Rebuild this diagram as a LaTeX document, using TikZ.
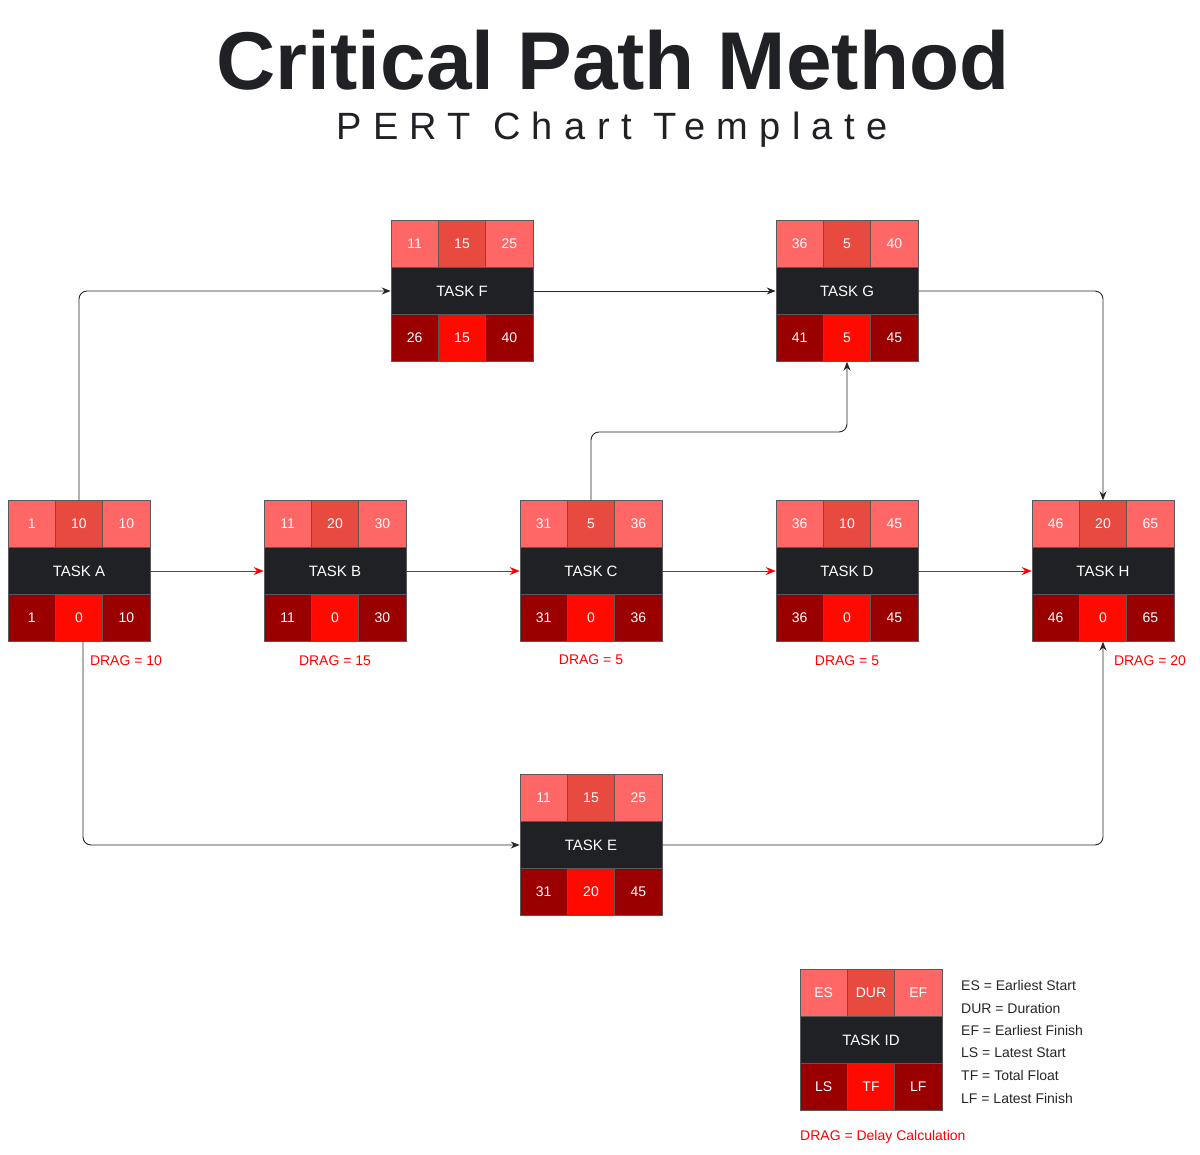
\documentclass[tikz,border=0pt]{standalone}
\usepackage{fontspec}
\setmainfont{Liberation Sans}
\usetikzlibrary{arrows.meta}
\definecolor{lt}{HTML}{FF6666}
\definecolor{md}{HTML}{E84A3F}
\definecolor{hd}{HTML}{202124}
\definecolor{dk}{HTML}{9B0000}
\definecolor{bt}{HTML}{FF0A00}
\definecolor{rl}{HTML}{FF0000}
\tikzset{
 cell/.style={draw=black!65,line width=0.6pt,minimum width=47.33pt,minimum height=47pt,inner sep=0pt,text=white,font=\fontsize{14}{16}\selectfont},
 hdr/.style={draw=black!65,line width=0.6pt,fill=hd,minimum width=142pt,minimum height=47pt,inner sep=0pt,text=white,font=\fontsize{15}{17}\selectfont},
 conn/.style={draw=black!85,line width=0.9pt,rounded corners=8pt,-{Stealth[length=9pt,width=7pt]}},
 crit/.style={draw=rl,line width=0.9pt,-{Stealth[length=10pt,width=8pt]}},
 drag/.style={text=rl,font=\fontsize{14}{16}\selectfont,inner sep=0pt},
 legt/.style={font=\fontsize{14}{16}\selectfont,anchor=west,inner sep=0pt,text=black!85}
}
\newcommand\taskbox[9]{%
 \begin{scope}[shift={(#2)}]
 \node[minimum width=142pt,minimum height=141pt,inner sep=0pt] (#1) at (0,0) {};
 \node[cell,fill=lt] (#1-es) at (-47.33,-47) {#4};
 \node[cell,fill=md] (#1-du) at (0,-47) {#5};
 \node[cell,fill=lt] (#1-ef) at (47.33,-47) {#6};
 \node[hdr] (#1-h) at (0,0) {#3};
 \node[cell,fill=dk] (#1-ls) at (-47.33,47) {#7};
 \node[cell,fill=bt] (#1-tf) at (0,47) {#8};
 \node[cell,fill=dk] (#1-lf) at (47.33,47) {#9};
 \end{scope}}
\begin{document}
\begin{tikzpicture}[x=1pt,y=-1pt]
\useasboundingbox (0,0) rectangle (1200,1155);
\node[font=\fontsize{82}{90}\selectfont\bfseries,text=hd] (title) at (613,60) {Critical Path Method};
\node[font=\fontsize{38}{44}\selectfont\addfontfeature{LetterSpace=30},text=hd] (sub) at (612,130) {PERT Chart Template};

\taskbox{A}{79,571}{TASK A}{1}{10}{10}{1}{0}{10}
\taskbox{B}{335,571}{TASK B}{11}{20}{30}{11}{0}{30}
\taskbox{C}{591,571}{TASK C}{31}{5}{36}{31}{0}{36}
\taskbox{D}{847,571}{TASK D}{36}{10}{45}{36}{0}{45}
\taskbox{H}{1103,571}{TASK H}{46}{20}{65}{46}{0}{65}
\taskbox{F}{462,291}{TASK F}{11}{15}{25}{26}{15}{40}
\taskbox{G}{847,291}{TASK G}{36}{5}{40}{41}{5}{45}
\taskbox{E}{591,845}{TASK E}{11}{15}{25}{31}{20}{45}
\taskbox{L}{871,1040}{TASK ID}{ES}{DUR}{EF}{LS}{TF}{LF}

\draw[crit] (A-h.east) -- (B-h.west);
\draw[crit] (B-h.east) -- (C-h.west);
\draw[crit] (C-h.east) -- (D-h.west);
\draw[crit] (D-h.east) -- (H-h.west);
\draw[conn] (A.north) |- (F-h.west);
\draw[conn] (F-h.east) -- (G-h.west);
\draw[conn] (G-h.east) -| (H.north);
\draw[conn] (C.north) |- (719,432) -| (G.south);
\draw[conn] ([xshift=4pt]A.south) |- (E-h.west);
\draw[conn] (E-h.east) -| (H.south);

\node[drag] (dA) at (126,661) {DRAG = 10};
\node[drag] (dB) at (335,661) {DRAG = 15};
\node[drag] (dC) at (591,660) {DRAG = 5};
\node[drag] (dD) at (847,661) {DRAG = 5};
\node[drag] (dH) at (1150,661) {DRAG = 20};

\node[legt] (l1) at (961,985) {ES = Earliest Start};
\node[legt] (l2) at (961,1008) {DUR = Duration};
\node[legt] (l3) at (961,1030) {EF = Earliest Finish};
\node[legt] (l4) at (961,1053) {LS = Latest Start};
\node[legt] (l5) at (961,1075) {TF = Total Float};
\node[legt] (l6) at (961,1098) {LF = Latest Finish};
\node[drag,anchor=west] (l7) at (800,1137) {DRAG = Delay Calculation};
\end{tikzpicture}
\end{document}
